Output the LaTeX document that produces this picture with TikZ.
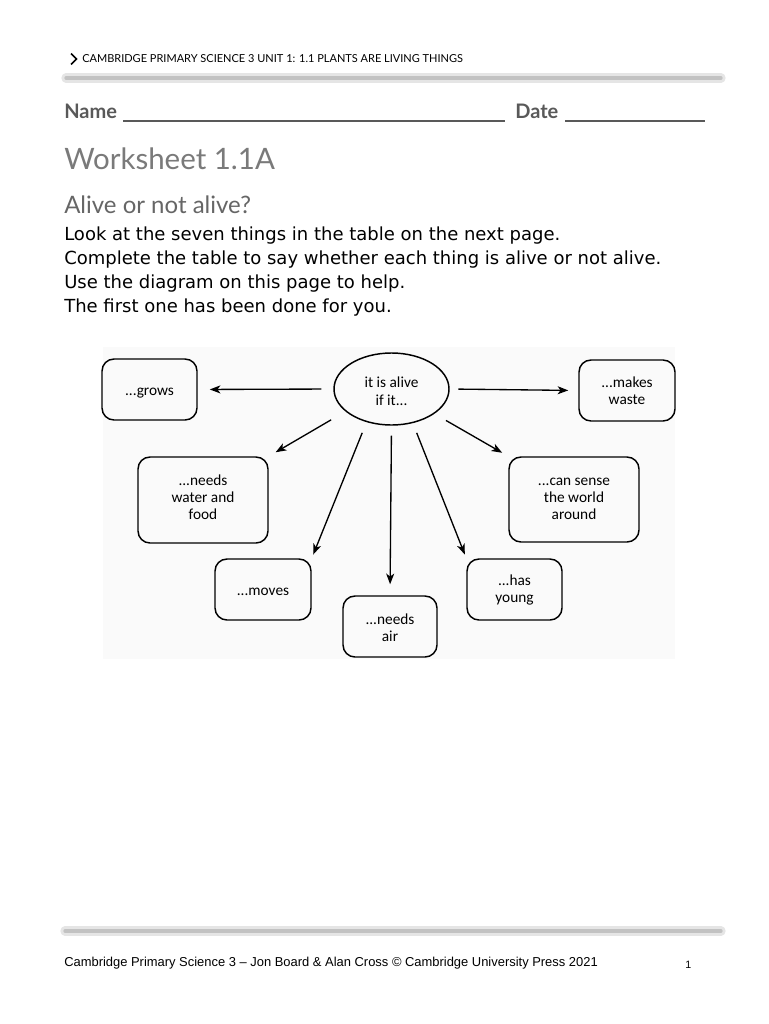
\documentclass[tikz,border=0pt]{standalone}
\usepackage{fontspec}
\setmainfont{DejaVu Sans}
\newfontfamily\lato{Lato}
\newfontfamily\carl{Carlito}
\newfontfamily\arialf{Liberation Sans}
\usetikzlibrary{arrows.meta,shapes.geometric}
\definecolor{namegray}{HTML}{595959}
\definecolor{titlegray}{HTML}{7A7A7A}
\definecolor{subgray}{HTML}{666666}
\tikzset{
  box/.style={draw, rounded corners=9pt, line width=1.1pt, inner sep=0pt},
  lbl/.style={align=center, inner sep=0pt, font=\carl\fontsize{11.5}{12.9}\selectfont},
  arr/.style={line width=1pt, -{Stealth[length=8pt,width=6pt,inset=2.2pt]}},
  txt/.style={anchor=base west, inner sep=0pt},
  shadowline/.style={line width=7pt, black!10, line cap=round},
  shadowcore/.style={line width=2.5pt, black!24, line cap=round},
  uline/.style={line width=1.5pt, namegray}
}
\begin{document}
\begin{tikzpicture}[x=0.75pt,y=-0.75pt]
\useasboundingbox (0,0) rectangle (768,1024);
\fill[white] (0,0) rectangle (768,1024);

% header
\draw[line width=1.3pt, line join=miter] (71,53.5) -- (76.5,59) -- (71,64.5);
\node[txt, font=\lato\fontsize{8.25}{10}\selectfont] (hdr) at (82,63) {CAMBRIDGE PRIMARY SCIENCE 3 UNIT 1: 1.1 PLANTS ARE LIVING THINGS};
\draw[shadowline] (66,78) -- (721,78);
\draw[shadowcore] (66,78) -- (721,78);

% name / date
\node[txt, font=\lato\bfseries\fontsize{15}{18}\selectfont, text=namegray] (name) at (64,118.5) {Name};
\draw[uline] (123,120.5) -- (505,120.5);
\node[txt, font=\lato\bfseries\fontsize{15}{18}\selectfont, text=namegray] (date) at (515,118.5) {Date};
\draw[uline] (565,120.5) -- (705,120.5);

% titles
\node[txt, font=\lato\fontsize{22.1}{27}\selectfont, text=titlegray] (ws) at (64,169) {Worksheet 1.1A};
\node[txt, font=\lato\fontsize{18}{21}\selectfont, text=subgray] (sub) at (64,213) {Alive or not alive?};

% instructions
\begin{scope}[every node/.style={txt, font=\fontsize{13.5}{16}\selectfont}]
\node (l1) at (64,240) {Look at the seven things in the table on the next page.};
\node (l2) at (64,264) {Complete the table to say whether each thing is alive or not alive.};
\node (l3) at (64,288) {Use the diagram on this page to help.};
\node (l4) at (64,312) {The first one has been done for you.};
\end{scope}

% diagram
\fill[black!2] (103,347) rectangle (675,659);
\node[draw, ellipse, line width=1.1pt, inner sep=0pt, minimum width=86.25pt, minimum height=54pt,
  label={[lbl, yshift=-1.6pt]center:it is alive\\if it...}] (c) at (391.5,389) {};
\node[box, minimum width=71.25pt, minimum height=45.75pt,
  label={[lbl, yshift=-2.4pt]center:...grows}] (grows) at (149.5,389.5) {};
\node[box, minimum width=72pt, minimum height=45.75pt,
  label={[lbl, yshift=-0.4pt]center:...makes\\waste}] (waste) at (627,390.5) {};
\node[box, minimum width=97.5pt, minimum height=64.5pt,
  label={[lbl, yshift=2.2pt]center:...needs\\water and\\food}] (water) at (203,500) {};
\node[box, minimum width=97.5pt, minimum height=63.75pt,
  label={[lbl, yshift=0.6pt]center:...can sense\\the world\\around}] (sense) at (574,499.5) {};
\node[box, minimum width=72pt, minimum height=45.75pt,
  label={[lbl, yshift=-1.5pt]center:...moves}] (moves) at (263,589.5) {};
\node[box, minimum width=70.5pt, minimum height=45.75pt,
  label={[lbl, yshift=-0.8pt]center:...needs\\air}] (air) at (390,626.5) {};
\node[box, minimum width=71.25pt, minimum height=45.75pt,
  label={[lbl, yshift=-0.6pt]center:...has\\young}] (young) at (514.5,589.5) {};

\draw[arr, shorten <=9pt, shorten >=9pt] (c.180) -- (grows.east);
\draw[arr, shorten <=6.4pt, shorten >=7.5pt] (c.0) -- (waste.west);
\draw[arr, shorten <=12.4pt, shorten >=6pt] (c.206) -- (water.north east);
\draw[arr, shorten <=10pt, shorten >=5.25pt] (c.330.7) -- (sense.north west);
\draw[arr, shorten <=8.6pt, shorten >=3pt] (c.233) -- (moves.north east);
\draw[arr, shorten <=7.8pt, shorten >=3pt] (c.302) -- (young.north west);
\draw[arr, shorten <=7.5pt, shorten >=8.25pt] (c.south) -- (air.north);

% footer
\draw[shadowline] (65,931) -- (721,931);
\draw[shadowcore] (65,931) -- (721,931);
\node[txt, font=\arialf\fontsize{9.7}{11}\selectfont] (foot) at (64,966.5) {Cambridge Primary Science 3 – Jon Board \& Alan Cross © Cambridge University Press 2021};
\node[txt, font=\arialf\fontsize{8}{10}\selectfont] (page) at (685,968) {1};
\end{tikzpicture}
\end{document}
